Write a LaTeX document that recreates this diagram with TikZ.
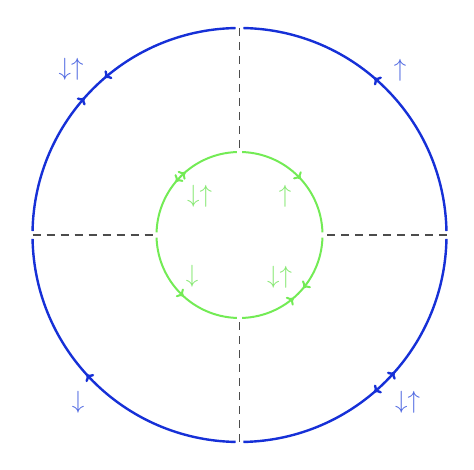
\documentclass[tikz,border=0pt]{standalone}
\usetikzlibrary{decorations.markings,arrows.meta}
\definecolor{outerblue}{RGB}{22,48,215}
\definecolor{innergreen}{RGB}{115,235,85}
\definecolor{outertext}{RGB}{80,105,225}
\definecolor{innertext}{RGB}{135,232,115}
\begin{document}
\begin{tikzpicture}[x=1pt,y=1pt,
  outerarc/.style={draw=outerblue,line width=2.4pt},
  innerarc/.style={draw=innergreen,line width=2pt},
  axisline/.style={draw=black!70,line width=1.3pt,dash pattern=on 8pt off 6pt},
  ccw/.style={postaction={decorate,decoration={markings,mark=at position #1 with {\arrow{To[length=6pt,width=11pt]}}}}},
  cw/.style={postaction={decorate,decoration={markings,mark=at position #1 with {\arrowreversed{To[length=6pt,width=11pt]}}}}},
  outerlab/.style={text=outertext,font=\fontsize{25}{27}\selectfont,inner sep=0pt},
  innerlab/.style={text=innertext,font=\fontsize{25}{27}\selectfont,inner sep=0pt}]
\useasboundingbox (0,0) rectangle (474,470);
\coordinate (c) at (239.5,235);
% dashed axes
\coordinate (ot) at ([shift={(90:207pt)}]c);
\coordinate (ob) at ([shift={(270:207pt)}]c);
\coordinate (ol) at ([shift={(180:207pt)}]c);
\coordinate (or) at ([shift={(0:207pt)}]c);
\coordinate (it) at ([shift={(90:83pt)}]c);
\coordinate (ib) at ([shift={(270:83pt)}]c);
\coordinate (il) at ([shift={(180:83pt)}]c);
\coordinate (ir) at ([shift={(0:83pt)}]c);
\draw[axisline] (ot) -- (it);
\draw[axisline] (ob) -- (ib);
\draw[axisline] (ol) -- (il);
\draw[axisline] (or) -- (ir);
% outer arcs
\draw[outerarc,ccw=0.55] ([shift={(1.1:207pt)}]c) arc[start angle=1.1,end angle=88.9,radius=207pt];
\draw[outerarc,ccw=0.45,cw=0.54] ([shift={(91.1:207pt)}]c) arc[start angle=91.1,end angle=178.9,radius=207pt];
\draw[outerarc,cw=0.47] ([shift={(181.1:207pt)}]c) arc[start angle=181.1,end angle=268.9,radius=207pt];
\draw[outerarc,cw=0.45,ccw=0.54] ([shift={(271.1:207pt)}]c) arc[start angle=271.1,end angle=358.9,radius=207pt];
% inner arcs
\draw[innerarc,cw=0.47] ([shift={(1.8:83pt)}]c) arc[start angle=1.8,end angle=88.2,radius=83pt];
\draw[innerarc,cw=0.45,ccw=0.56] ([shift={(91.8:83pt)}]c) arc[start angle=91.8,end angle=178.2,radius=83pt];
\draw[innerarc,ccw=0.53] ([shift={(181.8:83pt)}]c) arc[start angle=181.8,end angle=268.2,radius=83pt];
\draw[innerarc,ccw=0.45,cw=0.56] ([shift={(271.8:83pt)}]c) arc[start angle=271.8,end angle=358.2,radius=83pt];
% labels
\node[outerlab] (l1) at (71,401) {$\downarrow\uparrow$};
\node[outerlab] (l2) at (400,400) {$\uparrow$};
\node[outerlab] (l3) at (78,68) {$\downarrow$};
\node[outerlab] (l4) at (407.5,68) {$\downarrow\uparrow$};
\node[innerlab] (l5) at (199.5,274) {$\downarrow\uparrow$};
\node[innerlab] (l6) at (285,274) {$\uparrow$};
\node[innerlab] (l7) at (192,194) {$\downarrow$};
\node[innerlab] (l8) at (279.5,193) {$\downarrow\uparrow$};
\end{tikzpicture}
\end{document}
